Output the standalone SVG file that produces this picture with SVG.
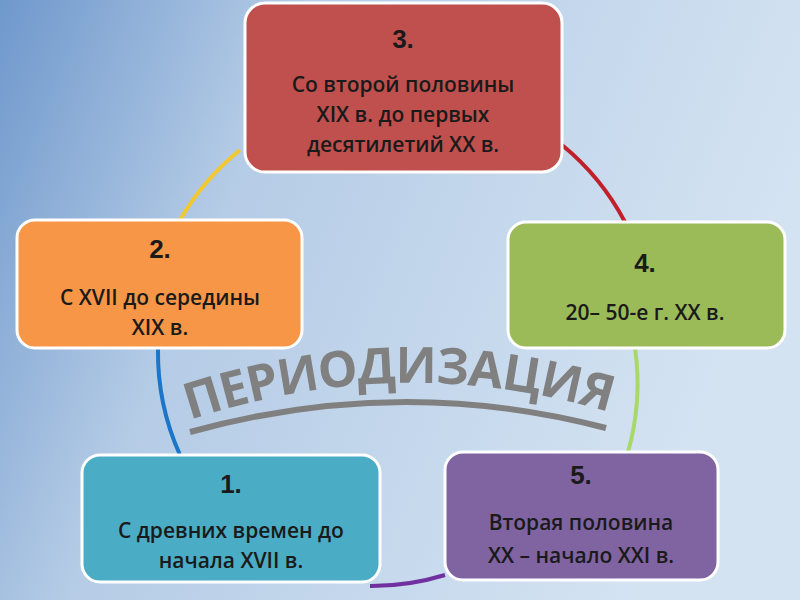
<svg xmlns="http://www.w3.org/2000/svg" width="800" height="600" viewBox="0 0 800 600">
<defs>
<linearGradient id="bg" x1="0" y1="0" x2="1" y2="0.3">
<stop offset="0" stop-color="#6f98cc"/><stop offset="0.35" stop-color="#b5cce6"/><stop offset="1" stop-color="#d4e3f2"/>
</linearGradient>
<path id="tp" d="M 190 420 Q 400 350 608 412"/>
</defs>
<style>
.box{stroke:#fff;stroke-width:3}
.t{font-family:"Open Sans","Liberation Sans",sans-serif;font-weight:600;fill:#1a1a1a;text-anchor:middle;font-size:21px}
.n{font-family:"Liberation Sans",sans-serif;font-weight:bold;fill:#1a1a1a;text-anchor:middle;font-size:26px}
</style>
<rect width="800" height="600" fill="url(#bg)"/>
<g id="connectors" fill="none" stroke-width="4">
<path d="M 240 150 A 250 250 0 0 0 180 220" stroke="#f2c830"/>
<path d="M 562 145 A 250 250 0 0 1 625 222" stroke="#c0202a"/>
<path d="M 635 348 A 250 250 0 0 1 628 452" stroke="#a8d86a"/>
<path d="M 445 575 A 250 250 0 0 1 370 586" stroke="#7030a0"/>
<path d="M 158 348 A 250 250 0 0 0 180 455" stroke="#1b75c8"/>
</g>
<g id="title">
<text font-family="'Open Sans','Liberation Sans',sans-serif" font-weight="bold" font-size="50" fill="#808080" letter-spacing="-1"><textPath href="#tp" startOffset="50%" text-anchor="middle">ПЕРИОДИЗАЦИЯ</textPath></text>
<path d="M 190 432 Q 400 374 606 428" fill="none" stroke="#808080" stroke-width="6"/>
</g>
<g id="n3"><rect class="box" x="245" y="3" width="317" height="169" rx="20" fill="#c0504d"/>
<text class="n" x="403" y="48">3.</text>
<text class="t" x="403" y="92">Со второй половины</text><text class="t" x="403" y="122">XIX в. до первых</text><text class="t" x="403" y="152">десятилетий XX в.</text></g>
<g id="n2"><rect class="box" x="17" y="220" width="285" height="128" rx="18" fill="#f79646"/>
<text class="n" x="160" y="258">2.</text>
<text class="t" x="160" y="305">С XVII до середины</text><text class="t" x="160" y="335">XIX в.</text></g>
<g id="n4"><rect class="box" x="508" y="222" width="277" height="126" rx="18" fill="#9bbb59"/>
<text class="n" x="645" y="272">4.</text>
<text class="t" x="645" y="320">20– 50-е г. XX в.</text></g>
<g id="n1"><rect class="box" x="82" y="455" width="298" height="127" rx="18" fill="#4bacc6"/>
<text class="n" x="231" y="493">1.</text>
<text class="t" x="231" y="538">С древних времен до</text><text class="t" x="231" y="568">начала XVII в.</text></g>
<g id="n5"><rect class="box" x="445" y="452" width="273" height="128" rx="18" fill="#8064a2"/>
<text class="n" x="581" y="484">5.</text>
<text class="t" x="581" y="530">Вторая половина</text><text class="t" x="581" y="563">XX – начало XXI в.</text></g>
</svg>
